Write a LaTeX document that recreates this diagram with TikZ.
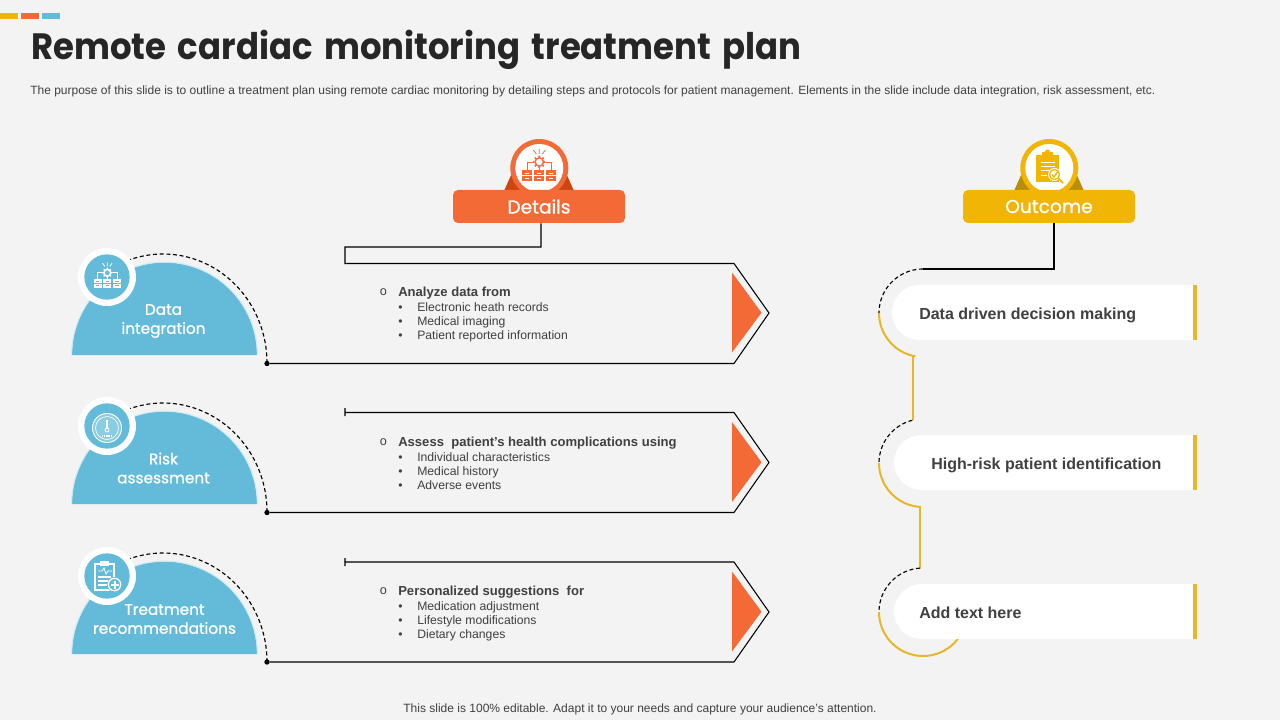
\documentclass[tikz,border=0pt]{standalone}
\usepackage{fontspec}
\setmainfont{Liberation Sans}
\newfontfamily\pop{Poppins}
\newfontfamily\poptitle{Poppins}[FakeStretch=0.925,WordSpace=1.6]
\newfontfamily\poplbl{Poppins}[FakeBold=1]
\usetikzlibrary{calc}
\definecolor{bg}{HTML}{F3F3F3}
\definecolor{ora}{HTML}{F46A37}
\definecolor{dora}{HTML}{CF4510}
\definecolor{yel}{HTML}{F0B505}
\definecolor{dyel}{HTML}{B98E05}
\definecolor{arcy}{HTML}{E7B72B}
\definecolor{blu}{HTML}{63BBD9}
\definecolor{ink}{HTML}{404040}
\tikzset{
  x=0.75pt,y=-0.75pt,
  conn/.style={draw=black,line width=0.8pt,line join=miter},
  dashline/.style={draw=black,line width=0.85pt,dash pattern=on 3pt off 2pt},
  yarc/.style={draw=arcy,line width=1.5pt},
  headbox/.style={rounded corners=3.75pt,minimum width=129pt,minimum height=24.75pt,inner sep=0pt,text=white,font=\poplbl\fontsize{14}{16}\selectfont},
  lbl/.style={align=center,text=white,inner sep=0pt,font=\poplbl\fontsize{11.5}{14.25}\selectfont},
  head/.style={anchor=base west,inner sep=0pt,text=ink,font=\bfseries\fontsize{9.8}{11}\selectfont},
  item/.style={anchor=base west,inner sep=0pt,text=ink,font=\fontsize{9.15}{11}\selectfont},
  pilltxt/.style={anchor=base west,inner sep=0pt,text=ink,font=\bfseries\fontsize{12}{14}\selectfont},
  dotn/.style={circle,fill=black,inner sep=0pt,minimum size=4pt},
  note/.style={inner sep=0pt,text=ink,font=\fontsize{9}{11}\selectfont}
}
% network icon: centre x,y ; icon colour ; colour on the boxes ; scale
\newcommand{\neticon}[5]{%
\begin{scope}[shift={(#1,#2)},scale=#5]
  \draw[#3,line width=0.6pt] (-12,9) -- (-12,-4) -- (12,-4) -- (12,9);
  \draw[#3,line width=0.6pt] (0,-4) -- (0,9);
  \fill[#4] (0,-4) circle (6.5);
  \draw[#3,line width=1.1pt] (0,-4) circle (4.2);
  \foreach \a in {0,45,...,315}{\fill[#3] ($(0,-4)+(\a:5.5)$) circle (1.1);}
  \draw[#3,line width=0.6pt] (0,-12) -- (0,-17) (-3,-12) -- (-6,-16) (3,-12) -- (6,-16);
  \foreach \k in {-12,0,12}{
    \fill[#3] (\k-5,4) rectangle (\k+5,15);
    \draw[#4,line width=0.4pt] (\k-5,9.5) -- (\k+5,9.5) (\k-2,7) -- (\k+2,7) (\k-2,12) -- (\k+2,12);
  }
\end{scope}}
% row of detail text
\newcommand{\detail}[6]{%
  \node[item,font=\fontsize{9.5}{11}\selectfont] (o#1) at (379.5,#2-1) {o};
  \node[head] (h#1) at (398,#2) {#3};
  \node[item] (ba#1) at (398,#2+15) {•};
  \node[item] (a#1) at (417,#2+15) {#4};
  \node[item] (bb#1) at (398,#2+29) {•};
  \node[item] (b#1) at (417,#2+29) {#5};
  \node[item] (bc#1) at (398,#2+43) {•};
  \node[item] (c#1) at (417,#2+43) {#6};
}
% arcs in screen orientation: style, cx, cy, rx, ry, a0, a1
\newcommand{\sarc}[7]{\draw[#1] plot[smooth,domain=#6:#7,samples=40] ({#2+#4*cos(\x)},{#3-#5*sin(\x)});}
% left half: semicircle base y, names
\newcommand{\dome}[3]{%
  \fill[blu] plot[smooth,domain=180:0,samples=60] ({164.5+92.5*cos(\x)},{#1-92.5*sin(\x)}) -- cycle;
  \sarc{draw=white!70!blu,line width=0.8pt}{164.5}{#1}{92.9}{92.9}{0}{180}
  \sarc{dashline}{163}{#1+8}{104}{109}{0}{118}
  \node[circle,fill=white,minimum size=43.5pt,inner sep=0pt] (#2) at (107,#1-78) {};
  \node[circle,fill=blu,minimum size=34pt,inner sep=0pt] (#3) at (107,#1-78) {};
}
\begin{document}
\begin{tikzpicture}
\useasboundingbox (0,0) rectangle (1280,720);
\fill[bg] (0,0) rectangle (1280,720);
% top marks
\fill[yel] (0,13) rectangle (18,19);
\fill[ora] (21,13) rectangle (39,19);
\fill[blu] (42,13) rectangle (60,19);
% title
\node[anchor=base west,inner sep=0pt,text=black!85,font=\poptitle\bfseries\fontsize{27.5}{30}\selectfont] (title) at (31,60) {Remote cardiac monitoring treatment plan};
\node[anchor=base west,inner sep=0pt,text=ink,font=\fontsize{9}{11}\selectfont] (sub) at (30,95) {The purpose of this slide is to outline a treatment plan using remote cardiac monitoring by detailing steps and protocols for patient management. Elements in the slide include data integration, risk assessment, etc.};
\node[note] (foot) at (640,709.5) {This slide is 100\% editable. Adapt it to your needs and capture your audience's attention.};

% header: Details
\fill[dora] (504,191) -- (520,155) -- (558,155) -- (574,191) -- cycle;
\fill[dyel] (1014,191) -- (1030,155) -- (1068,155) -- (1084,191) -- cycle;
\node[circle,fill=ora,minimum size=43.5pt,inner sep=0pt] (dc) at (539.3,168) {};
\node[circle,fill=white,minimum size=36pt,inner sep=0pt] (dci) at (539.3,168) {};
\neticon{539.3}{166}{ora}{white}{1}
\node[headbox,fill=ora] (details) at (539,206.5) {Details};
% header: Outcome
\node[circle,fill=yel,minimum size=43.5pt,inner sep=0pt] (oc) at (1049.3,168) {};
\node[circle,fill=white,minimum size=36pt,inner sep=0pt] (oci) at (1049.3,168) {};
\fill[yel] (1036,155) rectangle (1059,182);
\fill[yel,rounded corners=0.5pt] (1042,152) rectangle (1053,157);
\fill[yel] (1047.5,152) circle (2.5);
\draw[white,line width=0.7pt] (1041,162) -- (1055,162) (1041,166) -- (1055,166) (1041,170) -- (1050,170) (1041,175) -- (1047,175);
\fill[white] (1054.5,174.5) circle (6.5);
\draw[yel,line width=0.9pt] (1054.5,174.5) circle (5);
\draw[yel,line width=1pt] (1052,174.5) -- (1054,177) -- (1057.5,172);
\draw[yel,line width=1.2pt] (1058.5,178.5) -- (1063,183);
\node[headbox,fill=yel] (outcome) at (1049,206.5) {Outcome};

% domes
\dome{355}{w1}{i1}
\dome{504}{w2}{i2}
\dome{654}{w3}{i3}
\neticon{107.3}{276}{white}{blu}{0.8}
% gauge icon
\begin{scope}[shift={(107,428)}]
  \draw[white,line width=0.7pt,fill=white!25!blu] (0,0) circle (14.5);
  \draw[white,line width=0.5pt] (0,0) circle (11.5);
  \fill[white] (-0.8,-8) rectangle (0.8,1);
  \draw[white,line width=0.6pt] (0,2) circle (2);
  \draw[white,line width=1.2pt,dash pattern=on 1pt off 0.6pt] (-5,8) -- (5,8);
\end{scope}
% clipboard icon
\begin{scope}[shift={(106,576)}]
  \draw[white,line width=1pt] (-11,-12) rectangle (8,14);
  \fill[white] (-6,-15) rectangle (3,-10);
  \draw[white,line width=0.6pt] (-8,-5) -- (-4,-5) -- (-2,-8) -- (0,-2) -- (2,-5) -- (6,-5);
  \draw[white,line width=0.8pt] (-8,1) -- (5,1) (-8,5) -- (3,5) (-8,9) -- (1,9);
  \fill[blu] (8.5,8.5) circle (7.5);
  \draw[white,line width=1pt] (8.5,8.5) circle (6.2);
  \draw[white,line width=1.5pt] (4.5,8.5) -- (12.5,8.5) (8.5,4.5) -- (8.5,12.5);
\end{scope}
\node[lbl] (t1) at (163.5,321) {Data\\integration};
\node[lbl] (t2) at (163.5,468) {Risk\\assessment};
\node[lbl] (t3) at (164.5,619) {Treatment\\recommendations};

% detail connectors
\node[dotn] (d1) at (267,363.5) {};
\node[dotn] (d2) at (267,512.5) {};
\node[dotn] (d3) at (267,662) {};
\coordinate (r1a) at (345,247); \coordinate (r1b) at (345,263.5); \coordinate (r1c) at (734,263.5);
\coordinate (r1d) at (769,313); \coordinate (r1e) at (734,363.5);
\draw[conn] ([xshift=1.5pt]details.south) |- (r1a) -- (r1b) -- (r1c) -- (r1d) -- (r1e) -- (d1);
\coordinate (r2t) at (345,408); \coordinate (r2u) at (345,416);
\coordinate (r2b) at (345,412.5); \coordinate (r2c) at (734,412.5);
\coordinate (r2d) at (769,462.5); \coordinate (r2e) at (734,512.5);
\draw[conn] (r2t) -- (r2u) (r2b) -- (r2c) -- (r2d) -- (r2e) -- (d2);
\coordinate (r3t) at (345,558); \coordinate (r3u) at (345,566);
\coordinate (r3b) at (345,562); \coordinate (r3c) at (734,562);
\coordinate (r3d) at (769,612); \coordinate (r3e) at (734,662);
\draw[conn] (r3t) -- (r3u) (r3b) -- (r3c) -- (r3d) -- (r3e) -- (d3);
\fill[ora] (732,272.5) -- (761.5,312.7) -- (732,352.5) -- cycle;
\fill[ora] (732,422) -- (761.5,462.2) -- (732,502) -- cycle;
\fill[ora] (732,571.5) -- (761.5,611.7) -- (732,651.5) -- cycle;

\detail{1}{296}{Analyze data from}{Electronic heath records}{Medical imaging}{Patient reported information}
\detail{2}{446}{Assess\ \ patient’s health complications using}{Individual characteristics}{Medical history}{Adverse events}
\detail{3}{595}{Personalized suggestions\ \ for}{Medication adjustment}{Lifestyle modifications}{Dietary changes}

% outcome connectors
\coordinate (v1a) at (923,269);
\draw[conn] ([xshift=3.75pt]outcome.south) |- (v1a);
\sarc{dashline}{923}{313}{44}{44}{90}{180}
\sarc{yarc}{923}{313}{44}{44}{180}{260}
\coordinate (v1b) at (912.5,356); \coordinate (v1c) at (912.5,420);
\draw[yarc] (v1b) -- (v1c);
\sarc{dashline}{923}{463}{44}{44}{104}{180}
\sarc{yarc}{923}{463}{44}{44}{180}{266}
\coordinate (v2b) at (920,506); \coordinate (v2c) at (920,568.5);
\draw[yarc] (v2b) -- (v2c);
\sarc{dashline}{923}{612}{44}{44}{94}{180}
\sarc{yarc}{923}{612}{44}{44}{180}{326}

% outcome pills
\fill[white] (1197,285) [rounded corners=20.6pt] -- (892,285) -- (892,340) [sharp corners] -- (1197,340) -- cycle;
\fill[white] (1197,435) [rounded corners=20.6pt] -- (894,435) -- (894,490) [sharp corners] -- (1197,490) -- cycle;
\fill[white] (1197,584) [rounded corners=20.6pt] -- (894,584) -- (894,639) [sharp corners] -- (1197,639) -- cycle;
\fill[arcy] (1193,285) rectangle (1197,340);
\fill[arcy] (1193,435) rectangle (1197,490);
\fill[arcy] (1193,584) rectangle (1197,639);
\node[pilltxt] (p1) at (919,319) {Data driven decision making};
\node[pilltxt] (p2) at (931,469) {High-risk patient identification};
\node[pilltxt] (p3) at (919,618) {Add text here};
\end{tikzpicture}
\end{document}
